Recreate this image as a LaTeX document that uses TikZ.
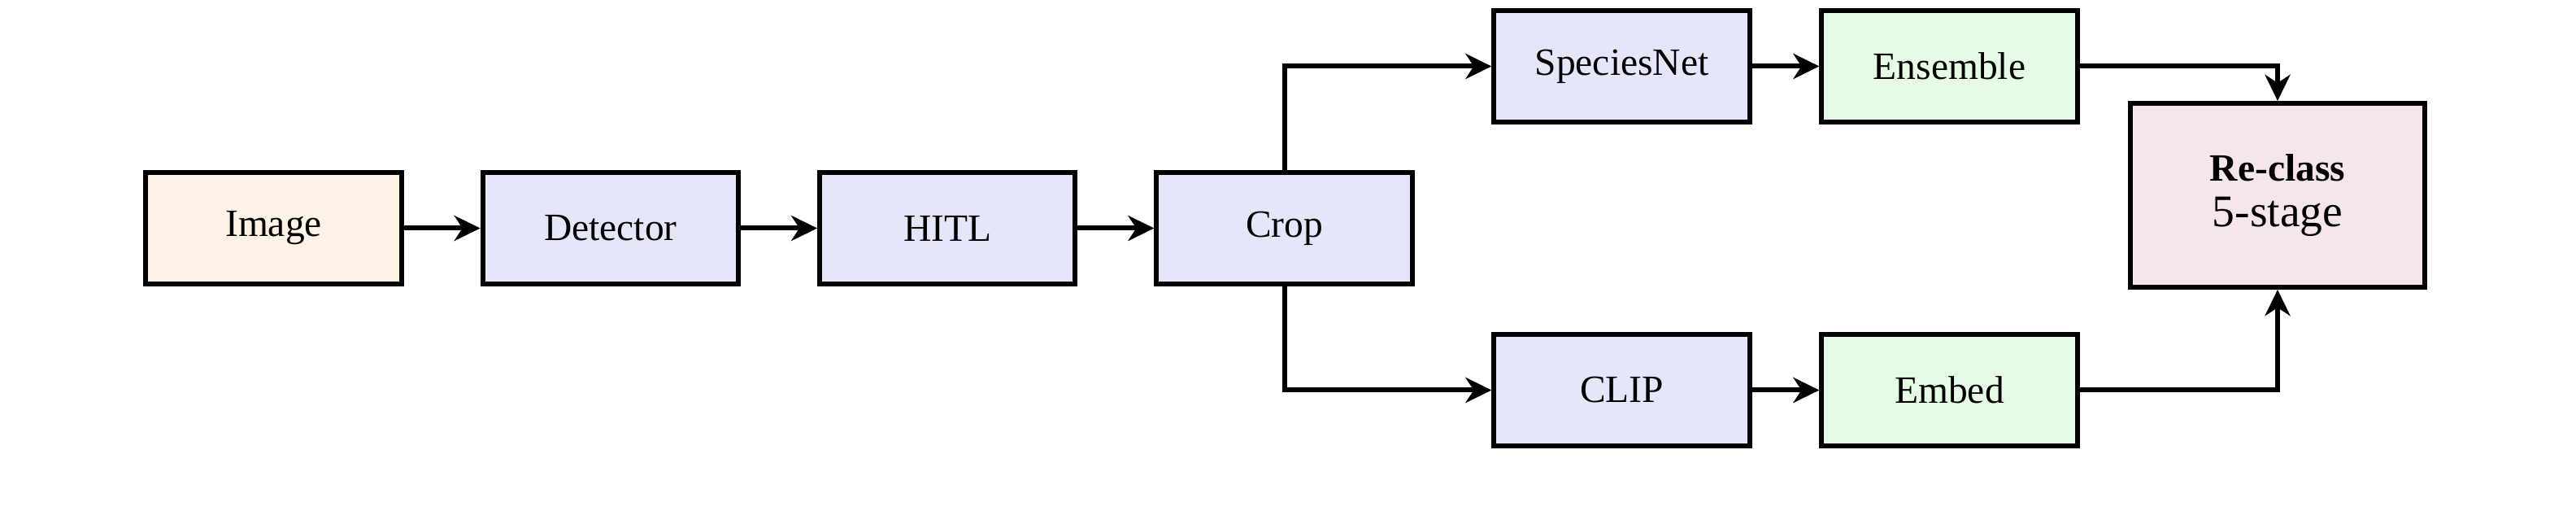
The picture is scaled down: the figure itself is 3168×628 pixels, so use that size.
\documentclass[tikz,border=0pt]{standalone}
\usepackage{fontspec}
\setmainfont{Liberation Serif}
\usetikzlibrary{arrows.meta}
\definecolor{imgfill}{HTML}{FEF2E6}
\definecolor{bluefill}{HTML}{E6E6FA}
\definecolor{greenfill}{HTML}{E6FBE6}
\definecolor{pinkfill}{HTML}{F7E5EC}
\tikzset{
  box/.style={draw=black, line width=0.06cm, minimum width=3.14cm, minimum height=1.36cm,
    inner sep=0pt, font=\fontsize{13.5}{16}\selectfont},
  bigbox/.style={box, minimum width=3.62cm, minimum height=2.26cm, align=center},
  conn/.style={line width=0.06cm, -{Stealth[length=0.32cm,width=0.31cm,inset=0.1cm]}}
}
\begin{document}
\begin{tikzpicture}[x=0.01cm,y=-0.01cm]
\useasboundingbox (0,0) rectangle (3168,628);
\node[box, fill=imgfill] (img) at (336.5,280.5) {Image};
\node[box, fill=bluefill] (det) at (750.8,280.5) {Detector};
\node[box, fill=bluefill] (hitl) at (1165.2,280.5) {HITL};
\node[box, fill=bluefill] (crop) at (1579.5,280.5) {Crop};
\node[box, fill=bluefill] (sn) at (1994.5,81.5) {SpeciesNet};
\node[box, fill=greenfill] (ens) at (2397.5,81.5) {Ensemble};
\node[box, fill=bluefill] (clip) at (1994.5,479.5) {CLIP};
\node[box, fill=greenfill] (emb) at (2397.5,479.5) {Embed};
\node[bigbox, fill=pinkfill] (rc) at (2801,240) {\textbf{Re-class}\\{\fontsize{15.8}{16}\selectfont 5-stage}};
\draw[conn] (img) -- (det);
\draw[conn] (det) -- (hitl);
\draw[conn] (hitl) -- (crop);
\draw[conn] (crop.north) |- (sn.west);
\draw[conn] (crop.south) |- (clip.west);
\draw[conn] (sn) -- (ens);
\draw[conn] (clip) -- (emb);
\draw[conn] (ens.east) -| (rc.north);
\draw[conn] (emb.east) -| (rc.south);
\end{tikzpicture}
\end{document}
